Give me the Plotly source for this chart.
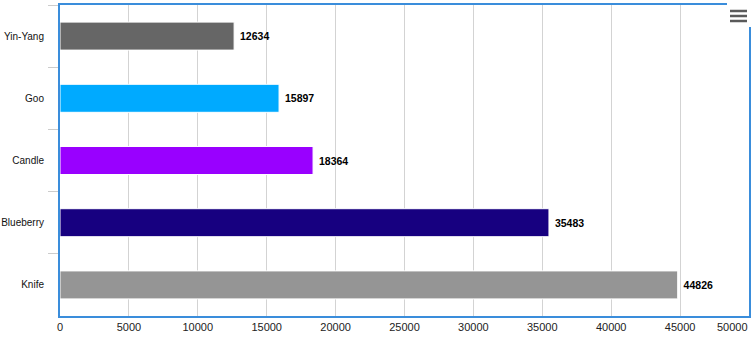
import plotly.graph_objects as go

categories = ["Yin-Yang", "Goo", "Candle", "Blueberry", "Knife"]
values = [12634, 15897, 18364, 35483, 44826]
colors = ["#666666", "#00aaff", "#9900ff", "#170080", "#959595"]
x_ticks = [0, 5000, 10000, 15000, 20000, 25000, 30000, 35000, 40000, 45000, 50000]

FONT = "Liberation Sans, Arial, sans-serif"
BORDER = "#3a8ddb"

fig = go.Figure(go.Bar(
    y=categories,
    x=values,
    orientation="h",
    width=0.45,
    marker=dict(color=colors, line=dict(color="#ffffff", width=1)),
    text=["\u00a0" + str(v) for v in values],
    textposition="outside",
    textfont=dict(family=FONT, size=10.5, color="#000000", weight="bold"),
    cliponaxis=False,
    hoverinfo="x+y",
))

# last tick label is drawn right-aligned so it stays inside the page
tick_text = [str(t) for t in x_ticks]
tick_text[-1] = ""

fig.update_layout(
    width=755, height=339,
    margin=dict(l=60, r=6, t=5, b=23),
    paper_bgcolor="#ffffff",
    plot_bgcolor="#ffffff",
    showlegend=False,
    font=dict(family=FONT, size=11, color="#222222"),
    xaxis=dict(
        range=[0, 50000],
        tickvals=x_ticks,
        ticktext=tick_text,
        showgrid=True, gridcolor="#d3d3d3", gridwidth=1,
        zeroline=False,
        ticks="",
        tickfont=dict(family=FONT, size=11, color="#222222"),
        showline=True, linecolor=BORDER, linewidth=2, mirror=True,
        fixedrange=True,
        automargin=False,
    ),
    yaxis=dict(
        categoryorder="array",
        categoryarray=categories,
        autorange="reversed",
        tickson="boundaries",
        ticks="outside", ticklen=10, tickcolor="#cccccc", tickwidth=1,
        ticklabelstandoff=12,
        showgrid=False,
        tickfont=dict(family=FONT, size=10, color="#111111"),
        showline=True, linecolor=BORDER, linewidth=2, mirror=True,
        fixedrange=True,
        automargin=False,
    ),
)

fig.add_annotation(x=x_ticks[-1], y=0, xref="x", yref="paper",
                   text=str(x_ticks[-1]), showarrow=False,
                   xanchor="right", yanchor="top", yshift=-3, xshift=1,
                   font=dict(family=FONT, size=11, color="#222222"))

# context menu button covering the top-right corner
plot_w = 755 - 60 - 6
plot_h = 339 - 5 - 23
fig.add_shape(type="rect", xref="paper", yref="paper",
              x0=(727 - 60) / plot_w, x1=(760 - 60) / plot_w,
              y0=(339 - 23 - 27) / plot_h, y1=(339 - 23 + 5) / plot_h,
              fillcolor="#ffffff", line=dict(width=0), layer="above")
for py in [11, 16, 21]:
    yp = (339 - 23 - py) / plot_h
    fig.add_shape(type="line", xref="paper", yref="paper",
                  x0=(730 - 60) / plot_w, x1=(747 - 60) / plot_w,
                  y0=yp, y1=yp,
                  line=dict(color="#5a5a5a", width=2.5), layer="above")

fig.write_html("out.html", config={"displayModeBar": False})
